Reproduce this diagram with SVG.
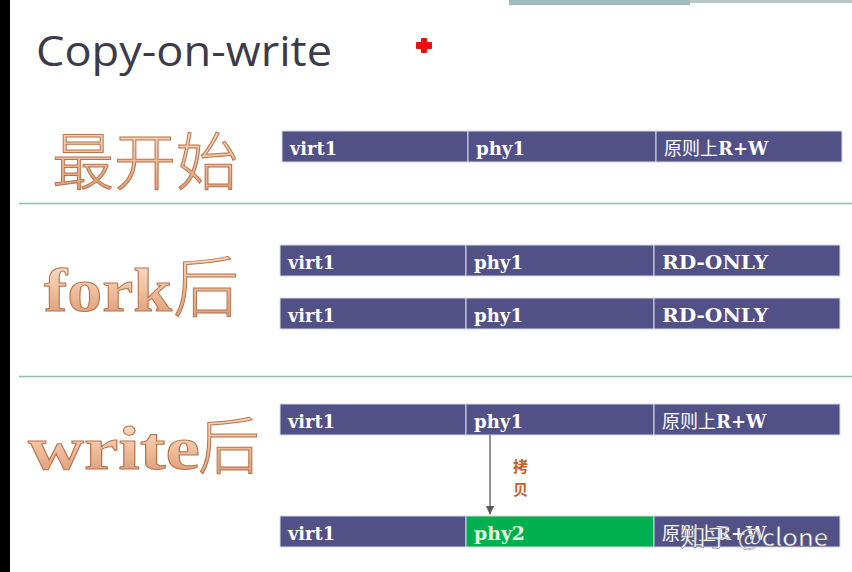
<svg xmlns="http://www.w3.org/2000/svg" width="852" height="572" viewBox="0 0 852 572">
<defs>
<linearGradient id="peach" x1="0" y1="0" x2="0" y2="1">
<stop offset="0" stop-color="#fbe6d6"/>
<stop offset="0.5" stop-color="#efbf9f"/>
<stop offset="1" stop-color="#d6946c"/>
</linearGradient>
<style>
.cell{fill:#515087;stroke:#d8d8e8;stroke-width:1}
.green{fill:#00b050;stroke:#d8d8e8;stroke-width:1}
.ct{fill:#ffffff;font-family:"DejaVu Serif","Liberation Serif",serif;font-weight:bold;font-size:18px}
.cn{fill:#ffffff;font-family:"Noto Sans CJK SC",sans-serif;font-size:18px;font-weight:normal}
.big{fill:url(#peach);stroke:#b9744c;stroke-width:1;font-family:"Liberation Serif","Noto Sans CJK SC",serif;font-weight:bold}
.hou{fill:url(#peach);stroke:#b9744c;stroke-width:1;font-family:"Noto Sans CJK SC",sans-serif;font-weight:300}
.div{stroke:#8cc2a8;stroke-width:1.5}
</style>
</defs>
<rect x="0" y="0" width="852" height="572" fill="#ffffff"/>
<rect x="0" y="0" width="10" height="572" fill="#000000"/>
<rect x="509" y="0" width="181" height="5" fill="#9fbcbc"/>
<rect x="690" y="0" width="162" height="3" fill="#b4c8c8"/>
<text x="36" y="66" font-family="Open Sans, DejaVu Sans, sans-serif" font-size="42" fill="#3b3b49" textLength="296" lengthAdjust="spacingAndGlyphs">Copy-on-write</text>
<g id="redcross" fill="#e8120c">
<rect x="421" y="38" width="6" height="15" rx="1"/>
<rect x="416" y="42" width="16" height="7" rx="1"/>
</g>
<line class="div" x1="19" y1="203.5" x2="852" y2="203.5"/>
<line class="div" x1="19" y1="376.5" x2="852" y2="376.5"/>
<g id="label-start">
<text class="hou" x="52" y="185" font-size="62" textLength="186" lengthAdjust="spacingAndGlyphs">最开始</text>
</g>
<g id="label-fork">
<text class="big" x="44" y="311" font-size="62" textLength="128" lengthAdjust="spacingAndGlyphs">fork</text>
<text class="hou" x="173" y="311" font-size="66">后</text>
</g>
<g id="label-write">
<text class="big" x="28" y="469" font-size="62" textLength="172" lengthAdjust="spacingAndGlyphs">write</text>
<text class="hou" x="198" y="469" font-size="62">后</text>
</g>
<g id="row1">
<rect class="cell" x="282" y="131" width="186" height="31"/>
<rect class="cell" x="468" y="131" width="188" height="31"/>
<rect class="cell" x="656" y="131" width="186" height="31"/>
<text class="ct" x="290" y="155" textLength="47" lengthAdjust="spacingAndGlyphs">virt1</text>
<text class="ct" x="476" y="155" textLength="49" lengthAdjust="spacingAndGlyphs">phy1</text>
<text class="ct" x="664" y="155"><tspan class="cn">原则上</tspan>R+W</text>
</g>
<g id="row2">
<rect class="cell" x="280" y="245" width="186" height="31"/>
<rect class="cell" x="466" y="245" width="188" height="31"/>
<rect class="cell" x="654" y="245" width="186" height="31"/>
<text class="ct" x="288" y="269" textLength="47" lengthAdjust="spacingAndGlyphs">virt1</text>
<text class="ct" x="474" y="269" textLength="49" lengthAdjust="spacingAndGlyphs">phy1</text>
<text class="ct" x="662" y="269" textLength="106" lengthAdjust="spacingAndGlyphs">RD-ONLY</text>
</g>
<g id="row3">
<rect class="cell" x="280" y="298" width="186" height="31"/>
<rect class="cell" x="466" y="298" width="188" height="31"/>
<rect class="cell" x="654" y="298" width="186" height="31"/>
<text class="ct" x="288" y="322" textLength="47" lengthAdjust="spacingAndGlyphs">virt1</text>
<text class="ct" x="474" y="322" textLength="49" lengthAdjust="spacingAndGlyphs">phy1</text>
<text class="ct" x="662" y="322" textLength="106" lengthAdjust="spacingAndGlyphs">RD-ONLY</text>
</g>
<g id="row4">
<rect class="cell" x="280" y="404" width="186" height="31"/>
<rect class="cell" x="466" y="404" width="188" height="31"/>
<rect class="cell" x="654" y="404" width="186" height="31"/>
<text class="ct" x="288" y="428" textLength="47" lengthAdjust="spacingAndGlyphs">virt1</text>
<text class="ct" x="474" y="428" textLength="49" lengthAdjust="spacingAndGlyphs">phy1</text>
<text class="ct" x="662" y="428"><tspan class="cn">原则上</tspan>R+W</text>
</g>
<g id="row5">
<rect class="cell" x="280" y="516" width="186" height="31"/>
<rect class="green" x="466" y="516" width="188" height="31"/>
<rect class="cell" x="654" y="516" width="186" height="31"/>
<text class="ct" x="288" y="540" textLength="47" lengthAdjust="spacingAndGlyphs">virt1</text>
<text class="ct" x="474" y="540" textLength="51" lengthAdjust="spacingAndGlyphs" style="fill:#e6f6dc">phy2</text>
<text class="ct" x="662" y="540"><tspan class="cn">原则上</tspan>R+W</text>
</g>
<g id="connectors">
<line x1="490" y1="435" x2="490" y2="514" stroke="#5a5a5a" stroke-width="1.3"/>
<path d="M486,506 L490,515 L494,506 Z" fill="#5a5a5a"/>
</g>
<g id="copylabel" font-family="Noto Sans CJK SC, sans-serif" font-weight="bold" font-size="15" fill="#c0622a">
<text x="513" y="472">拷</text>
<text x="513" y="495">贝</text>
</g>
<text x="680" y="546" font-family="Noto Sans CJK SC, sans-serif" font-size="24" fill="#ffffff" stroke="#555555" stroke-width="0.4" textLength="148" lengthAdjust="spacingAndGlyphs">知乎 @clone</text>
</svg>
